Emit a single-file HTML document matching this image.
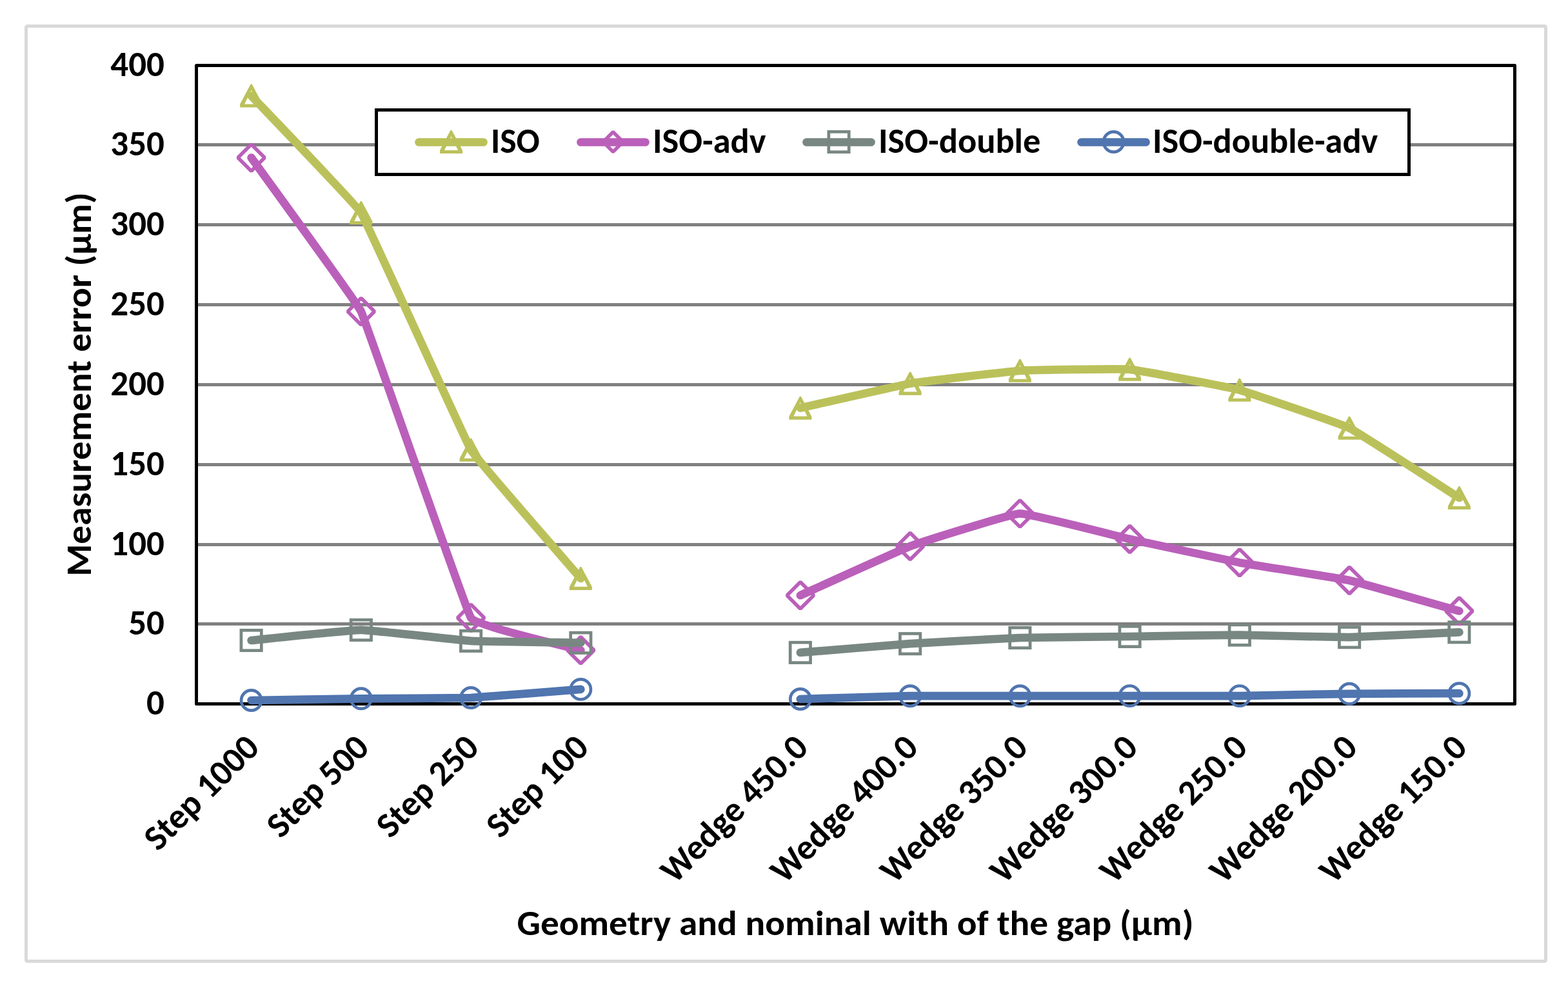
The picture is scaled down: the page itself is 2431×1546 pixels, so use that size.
<!DOCTYPE html><html><head><meta charset="utf-8"><style>html,body{margin:0;padding:0;background:#fff;}svg{display:block;}</style></head><body>
<svg width="2431" height="1546" viewBox="0 0 2431 1546">
<rect width="2431" height="1546" fill="#fff"/>
<rect x="40.5" y="40.5" width="2356" height="1450" rx="2" fill="#fff" stroke="#D9D9D9" stroke-width="5"/>
<line x1="304.5" y1="224.5" x2="2348.5" y2="224.5" stroke="#808080" stroke-width="5"/>
<line x1="304.5" y1="348.5" x2="2348.5" y2="348.5" stroke="#808080" stroke-width="5"/>
<line x1="304.5" y1="472.5" x2="2348.5" y2="472.5" stroke="#808080" stroke-width="5"/>
<line x1="304.5" y1="596.5" x2="2348.5" y2="596.5" stroke="#808080" stroke-width="5"/>
<line x1="304.5" y1="720.5" x2="2348.5" y2="720.5" stroke="#808080" stroke-width="5"/>
<line x1="304.5" y1="844.5" x2="2348.5" y2="844.5" stroke="#808080" stroke-width="5"/>
<line x1="304.5" y1="967.5" x2="2348.5" y2="967.5" stroke="#808080" stroke-width="5"/>
<rect x="304.5" y="101.5" width="2044.0" height="990.0" fill="none" stroke="#000" stroke-width="5" stroke-linejoin="round"/>
<g font-family="Carlito, 'Liberation Sans', sans-serif" font-weight="bold" font-size="55" fill="#000" text-anchor="end">
<text x="255" y="1107.5" textLength="27.89" lengthAdjust="spacingAndGlyphs">0</text>
<text x="255" y="983.5" textLength="55.77" lengthAdjust="spacingAndGlyphs">50</text>
<text x="255" y="860.5" textLength="83.64" lengthAdjust="spacingAndGlyphs">100</text>
<text x="255" y="736.5" textLength="83.64" lengthAdjust="spacingAndGlyphs">150</text>
<text x="255" y="612.5" textLength="83.64" lengthAdjust="spacingAndGlyphs">200</text>
<text x="255" y="488.5" textLength="83.64" lengthAdjust="spacingAndGlyphs">250</text>
<text x="255" y="364.5" textLength="83.64" lengthAdjust="spacingAndGlyphs">300</text>
<text x="255" y="240.5" textLength="83.64" lengthAdjust="spacingAndGlyphs">350</text>
<text x="255" y="117.5" textLength="83.64" lengthAdjust="spacingAndGlyphs">400</text>
</g>
<g font-family="Carlito, 'Liberation Sans', sans-serif" font-weight="bold" font-size="55" fill="#000">
<text transform="translate(141,596) rotate(-90)" text-anchor="middle" textLength="595.6" lengthAdjust="spacingAndGlyphs">Measurement error (µm)</text>
<text x="1326" y="1450" text-anchor="middle" textLength="1049" lengthAdjust="spacingAndGlyphs">Geometry and nominal with of the gap (µm)</text>
</g>
<g font-family="Carlito, 'Liberation Sans', sans-serif" font-weight="bold" font-size="55" fill="#000" text-anchor="end">
<text transform="translate(404.6,1162.0) rotate(-45)" textLength="225.55" lengthAdjust="spacingAndGlyphs">Step 1000</text>
<text transform="translate(574.9,1162.0) rotate(-45)" textLength="197.66" lengthAdjust="spacingAndGlyphs">Step 500</text>
<text transform="translate(745.1,1162.0) rotate(-45)" textLength="197.66" lengthAdjust="spacingAndGlyphs">Step 250</text>
<text transform="translate(915.4,1162.0) rotate(-45)" textLength="197.66" lengthAdjust="spacingAndGlyphs">Step 100</text>
<text transform="translate(1255.8,1162.0) rotate(-45)" textLength="296.89" lengthAdjust="spacingAndGlyphs">Wedge 450.0</text>
<text transform="translate(1426.1,1162.0) rotate(-45)" textLength="296.89" lengthAdjust="spacingAndGlyphs">Wedge 400.0</text>
<text transform="translate(1596.3,1162.0) rotate(-45)" textLength="296.89" lengthAdjust="spacingAndGlyphs">Wedge 350.0</text>
<text transform="translate(1766.6,1162.0) rotate(-45)" textLength="296.89" lengthAdjust="spacingAndGlyphs">Wedge 300.0</text>
<text transform="translate(1936.8,1162.0) rotate(-45)" textLength="296.89" lengthAdjust="spacingAndGlyphs">Wedge 250.0</text>
<text transform="translate(2107.1,1162.0) rotate(-45)" textLength="296.89" lengthAdjust="spacingAndGlyphs">Wedge 200.0</text>
<text transform="translate(2277.3,1162.0) rotate(-45)" textLength="296.89" lengthAdjust="spacingAndGlyphs">Wedge 150.0</text>
</g>
<g>
<path d="M389.60,148.50 C399.86,159.44 551.95,317.25 559.85,330.00 C567.75,342.75 722.38,684.94 730.10,697.80 C737.82,710.66 890.60,885.50 900.35,896.90" fill="none" stroke="#BBC15A" stroke-width="12.7" stroke-linecap="round" stroke-linejoin="round"/>
<path d="M1240.85,632.70 C1255.49,629.43 1396.31,597.21 1411.10,594.70 C1425.89,592.19 1566.38,575.76 1581.35,574.80 C1596.32,573.84 1736.66,571.48 1751.60,572.80 C1766.54,574.12 1907.36,600.93 1921.85,604.80 C1936.34,608.67 2078.64,657.19 2092.10,663.80 C2105.56,670.41 2249.69,763.95 2262.35,772.00" fill="none" stroke="#BBC15A" stroke-width="12.7" stroke-linecap="round" stroke-linejoin="round"/>
<path d="M388.60,130.50L390.60,130.50L407.10,161.50L407.10,166.50L372.10,166.50L372.10,161.50ZM389.60,139.90L400.20,161.40L379.00,161.40Z" fill="#BBC15A" fill-rule="evenodd"/>
<path d="M558.85,312.00L560.85,312.00L577.35,343.00L577.35,348.00L542.35,348.00L542.35,343.00ZM559.85,321.40L570.45,342.90L549.25,342.90Z" fill="#BBC15A" fill-rule="evenodd"/>
<path d="M729.10,679.80L731.10,679.80L747.60,710.80L747.60,715.80L712.60,715.80L712.60,710.80ZM730.10,689.20L740.70,710.70L719.50,710.70Z" fill="#BBC15A" fill-rule="evenodd"/>
<path d="M899.35,878.90L901.35,878.90L917.85,909.90L917.85,914.90L882.85,914.90L882.85,909.90ZM900.35,888.30L910.95,909.80L889.75,909.80Z" fill="#BBC15A" fill-rule="evenodd"/>
<path d="M1239.85,614.70L1241.85,614.70L1258.35,645.70L1258.35,650.70L1223.35,650.70L1223.35,645.70ZM1240.85,624.10L1251.45,645.60L1230.25,645.60Z" fill="#BBC15A" fill-rule="evenodd"/>
<path d="M1410.10,576.70L1412.10,576.70L1428.60,607.70L1428.60,612.70L1393.60,612.70L1393.60,607.70ZM1411.10,586.10L1421.70,607.60L1400.50,607.60Z" fill="#BBC15A" fill-rule="evenodd"/>
<path d="M1580.35,556.80L1582.35,556.80L1598.85,587.80L1598.85,592.80L1563.85,592.80L1563.85,587.80ZM1581.35,566.20L1591.95,587.70L1570.75,587.70Z" fill="#BBC15A" fill-rule="evenodd"/>
<path d="M1750.60,554.80L1752.60,554.80L1769.10,585.80L1769.10,590.80L1734.10,590.80L1734.10,585.80ZM1751.60,564.20L1762.20,585.70L1741.00,585.70Z" fill="#BBC15A" fill-rule="evenodd"/>
<path d="M1920.85,586.80L1922.85,586.80L1939.35,617.80L1939.35,622.80L1904.35,622.80L1904.35,617.80ZM1921.85,596.20L1932.45,617.70L1911.25,617.70Z" fill="#BBC15A" fill-rule="evenodd"/>
<path d="M2091.10,645.80L2093.10,645.80L2109.60,676.80L2109.60,681.80L2074.60,681.80L2074.60,676.80ZM2092.10,655.20L2102.70,676.70L2081.50,676.70Z" fill="#BBC15A" fill-rule="evenodd"/>
<path d="M2261.35,754.00L2263.35,754.00L2279.85,785.00L2279.85,790.00L2244.85,790.00L2244.85,785.00ZM2262.35,763.40L2272.95,784.90L2251.75,784.90Z" fill="#BBC15A" fill-rule="evenodd"/>
</g>
<g>
<path d="M389.60,244.50 C398.31,256.71 553.39,469.46 559.85,483.00 C566.31,496.54 721.94,945.41 730.10,958.00 C738.26,970.59 885.96,1004.05 900.35,1008.30" fill="none" stroke="#BA60BA" stroke-width="12.7" stroke-linecap="round" stroke-linejoin="round"/>
<path d="M1240.85,923.20 C1254.54,917.07 1397.04,852.23 1411.10,847.00 C1425.16,841.77 1566.36,796.88 1581.35,796.40 C1596.34,795.92 1736.96,832.73 1751.60,836.00 C1766.24,839.27 1907.11,869.63 1921.85,872.40 C1936.59,875.17 2077.45,896.77 2092.10,900.00 C2106.75,903.23 2247.90,943.47 2262.35,947.50" fill="none" stroke="#BA60BA" stroke-width="12.7" stroke-linecap="round" stroke-linejoin="round"/>
<path d="M387.60,221.80L391.60,221.80L412.30,242.50L412.30,246.50L391.60,267.20L387.60,267.20L366.90,246.50L366.90,242.50ZM389.60,227.70L406.40,244.50L389.60,261.30L372.80,244.50Z" fill="#BA60BA" fill-rule="evenodd"/>
<path d="M557.85,460.30L561.85,460.30L582.55,481.00L582.55,485.00L561.85,505.70L557.85,505.70L537.15,485.00L537.15,481.00ZM559.85,466.20L576.65,483.00L559.85,499.80L543.05,483.00Z" fill="#BA60BA" fill-rule="evenodd"/>
<path d="M728.10,935.30L732.10,935.30L752.80,956.00L752.80,960.00L732.10,980.70L728.10,980.70L707.40,960.00L707.40,956.00ZM730.10,941.20L746.90,958.00L730.10,974.80L713.30,958.00Z" fill="#BA60BA" fill-rule="evenodd"/>
<path d="M898.35,985.60L902.35,985.60L923.05,1006.30L923.05,1010.30L902.35,1031.00L898.35,1031.00L877.65,1010.30L877.65,1006.30ZM900.35,991.50L917.15,1008.30L900.35,1025.10L883.55,1008.30Z" fill="#BA60BA" fill-rule="evenodd"/>
<path d="M1238.85,900.50L1242.85,900.50L1263.55,921.20L1263.55,925.20L1242.85,945.90L1238.85,945.90L1218.15,925.20L1218.15,921.20ZM1240.85,906.40L1257.65,923.20L1240.85,940.00L1224.05,923.20Z" fill="#BA60BA" fill-rule="evenodd"/>
<path d="M1409.10,824.30L1413.10,824.30L1433.80,845.00L1433.80,849.00L1413.10,869.70L1409.10,869.70L1388.40,849.00L1388.40,845.00ZM1411.10,830.20L1427.90,847.00L1411.10,863.80L1394.30,847.00Z" fill="#BA60BA" fill-rule="evenodd"/>
<path d="M1579.35,773.70L1583.35,773.70L1604.05,794.40L1604.05,798.40L1583.35,819.10L1579.35,819.10L1558.65,798.40L1558.65,794.40ZM1581.35,779.60L1598.15,796.40L1581.35,813.20L1564.55,796.40Z" fill="#BA60BA" fill-rule="evenodd"/>
<path d="M1749.60,813.30L1753.60,813.30L1774.30,834.00L1774.30,838.00L1753.60,858.70L1749.60,858.70L1728.90,838.00L1728.90,834.00ZM1751.60,819.20L1768.40,836.00L1751.60,852.80L1734.80,836.00Z" fill="#BA60BA" fill-rule="evenodd"/>
<path d="M1919.85,849.70L1923.85,849.70L1944.55,870.40L1944.55,874.40L1923.85,895.10L1919.85,895.10L1899.15,874.40L1899.15,870.40ZM1921.85,855.60L1938.65,872.40L1921.85,889.20L1905.05,872.40Z" fill="#BA60BA" fill-rule="evenodd"/>
<path d="M2090.10,877.30L2094.10,877.30L2114.80,898.00L2114.80,902.00L2094.10,922.70L2090.10,922.70L2069.40,902.00L2069.40,898.00ZM2092.10,883.20L2108.90,900.00L2092.10,916.80L2075.30,900.00Z" fill="#BA60BA" fill-rule="evenodd"/>
<path d="M2260.35,924.80L2264.35,924.80L2285.05,945.50L2285.05,949.50L2264.35,970.20L2260.35,970.20L2239.65,949.50L2239.65,945.50ZM2262.35,930.70L2279.15,947.50L2262.35,964.30L2245.55,947.50Z" fill="#BA60BA" fill-rule="evenodd"/>
</g>
<g>
<path d="M389.60,993.00 C404.53,991.59 544.85,976.86 559.85,976.90 C574.85,976.94 715.13,993.02 730.10,993.90 C745.07,994.78 885.35,996.54 900.35,996.80" fill="none" stroke="#788782" stroke-width="12.7" stroke-linecap="round" stroke-linejoin="round"/>
<path d="M1240.85,1011.90 C1255.80,1010.70 1396.13,999.21 1411.10,998.20 C1426.07,997.19 1566.36,989.49 1581.35,989.00 C1596.34,988.51 1736.60,987.19 1751.60,987.00 C1766.60,986.81 1906.85,984.55 1921.85,984.60 C1936.85,984.65 2077.10,988.39 2092.10,988.20 C2107.10,988.01 2247.37,981.00 2262.35,980.30" fill="none" stroke="#788782" stroke-width="12.7" stroke-linecap="round" stroke-linejoin="round"/>
<rect x="373.90" y="977.30" width="31.4" height="31.4" fill="none" stroke="#788782" stroke-width="4.7"/>
<rect x="544.15" y="961.20" width="31.4" height="31.4" fill="none" stroke="#788782" stroke-width="4.7"/>
<rect x="714.40" y="978.20" width="31.4" height="31.4" fill="none" stroke="#788782" stroke-width="4.7"/>
<rect x="884.65" y="981.10" width="31.4" height="31.4" fill="none" stroke="#788782" stroke-width="4.7"/>
<rect x="1225.15" y="996.20" width="31.4" height="31.4" fill="none" stroke="#788782" stroke-width="4.7"/>
<rect x="1395.40" y="982.50" width="31.4" height="31.4" fill="none" stroke="#788782" stroke-width="4.7"/>
<rect x="1565.65" y="973.30" width="31.4" height="31.4" fill="none" stroke="#788782" stroke-width="4.7"/>
<rect x="1735.90" y="971.30" width="31.4" height="31.4" fill="none" stroke="#788782" stroke-width="4.7"/>
<rect x="1906.15" y="968.90" width="31.4" height="31.4" fill="none" stroke="#788782" stroke-width="4.7"/>
<rect x="2076.40" y="972.50" width="31.4" height="31.4" fill="none" stroke="#788782" stroke-width="4.7"/>
<rect x="2246.65" y="964.60" width="31.4" height="31.4" fill="none" stroke="#788782" stroke-width="4.7"/>
</g>
<g>
<path d="M389.60,1086.00 C404.60,1085.76 544.85,1083.48 559.85,1083.30 C574.85,1083.12 715.11,1082.63 730.10,1082.00 C745.09,1081.37 885.39,1070.05 900.35,1068.90" fill="none" stroke="#5075AF" stroke-width="12.7" stroke-linecap="round" stroke-linejoin="round"/>
<path d="M1240.85,1084.00 C1255.84,1083.58 1396.10,1079.41 1411.10,1079.20 C1426.10,1078.99 1566.35,1079.20 1581.35,1079.20 C1596.35,1079.20 1736.60,1079.10 1751.60,1079.10 C1766.60,1079.10 1906.85,1079.25 1921.85,1079.10 C1936.85,1078.95 2077.10,1075.97 2092.10,1075.80 C2107.10,1075.63 2247.35,1075.25 2262.35,1075.20" fill="none" stroke="#5075AF" stroke-width="12.7" stroke-linecap="round" stroke-linejoin="round"/>
<circle cx="389.60" cy="1086.00" r="15.6" fill="none" stroke="#5075AF" stroke-width="4.7"/>
<circle cx="559.85" cy="1083.30" r="15.6" fill="none" stroke="#5075AF" stroke-width="4.7"/>
<circle cx="730.10" cy="1082.00" r="15.6" fill="none" stroke="#5075AF" stroke-width="4.7"/>
<circle cx="900.35" cy="1068.90" r="15.6" fill="none" stroke="#5075AF" stroke-width="4.7"/>
<circle cx="1240.85" cy="1084.00" r="15.6" fill="none" stroke="#5075AF" stroke-width="4.7"/>
<circle cx="1411.10" cy="1079.20" r="15.6" fill="none" stroke="#5075AF" stroke-width="4.7"/>
<circle cx="1581.35" cy="1079.20" r="15.6" fill="none" stroke="#5075AF" stroke-width="4.7"/>
<circle cx="1751.60" cy="1079.10" r="15.6" fill="none" stroke="#5075AF" stroke-width="4.7"/>
<circle cx="1921.85" cy="1079.10" r="15.6" fill="none" stroke="#5075AF" stroke-width="4.7"/>
<circle cx="2092.10" cy="1075.80" r="15.6" fill="none" stroke="#5075AF" stroke-width="4.7"/>
<circle cx="2262.35" cy="1075.20" r="15.6" fill="none" stroke="#5075AF" stroke-width="4.7"/>
</g>
<rect x="583.5" y="170.5" width="1601" height="100" fill="#fff" stroke="#000" stroke-width="5"/>
<line x1="649.5" y1="220.5" x2="749.5" y2="220.5" stroke="#BBC15A" stroke-width="12.7" stroke-linecap="round"/>
<path d="M698.50,202.00L700.50,202.00L717.00,233.00L717.00,238.00L682.00,238.00L682.00,233.00ZM699.50,211.40L710.10,232.90L688.90,232.90Z" fill="#BBC15A" fill-rule="evenodd"/>
<line x1="900.5" y1="220.5" x2="1000.5" y2="220.5" stroke="#BA60BA" stroke-width="12.7" stroke-linecap="round"/>
<path d="M948.70,202.50L952.30,202.50L968.00,218.20L968.00,221.80L952.30,237.50L948.70,237.50L933.00,221.80L933.00,218.20ZM950.50,208.50L962.00,220.00L950.50,231.50L939.00,220.00Z" fill="#BA60BA" fill-rule="evenodd"/>
<line x1="1250.5" y1="220.5" x2="1350.5" y2="220.5" stroke="#788782" stroke-width="12.7" stroke-linecap="round"/>
<rect x="1284.80" y="204.30" width="31.4" height="31.4" fill="none" stroke="#788782" stroke-width="4.7"/>
<line x1="1676.5" y1="220.5" x2="1776.5" y2="220.5" stroke="#5075AF" stroke-width="12.7" stroke-linecap="round"/>
<circle cx="1726.50" cy="220.00" r="15.6" fill="none" stroke="#5075AF" stroke-width="4.7"/>
<g font-family="Carlito, 'Liberation Sans', sans-serif" font-weight="bold" font-size="55" fill="#000">
<text x="761.0" y="237" textLength="75.86" lengthAdjust="spacingAndGlyphs">ISO</text>
<text x="1012.0" y="237" textLength="175.50" lengthAdjust="spacingAndGlyphs">ISO-adv</text>
<text x="1362.0" y="237" textLength="251.40" lengthAdjust="spacingAndGlyphs">ISO-double</text>
<text x="1787.0" y="237" textLength="349.30" lengthAdjust="spacingAndGlyphs">ISO-double-adv</text>
</g>
</svg></body></html>
